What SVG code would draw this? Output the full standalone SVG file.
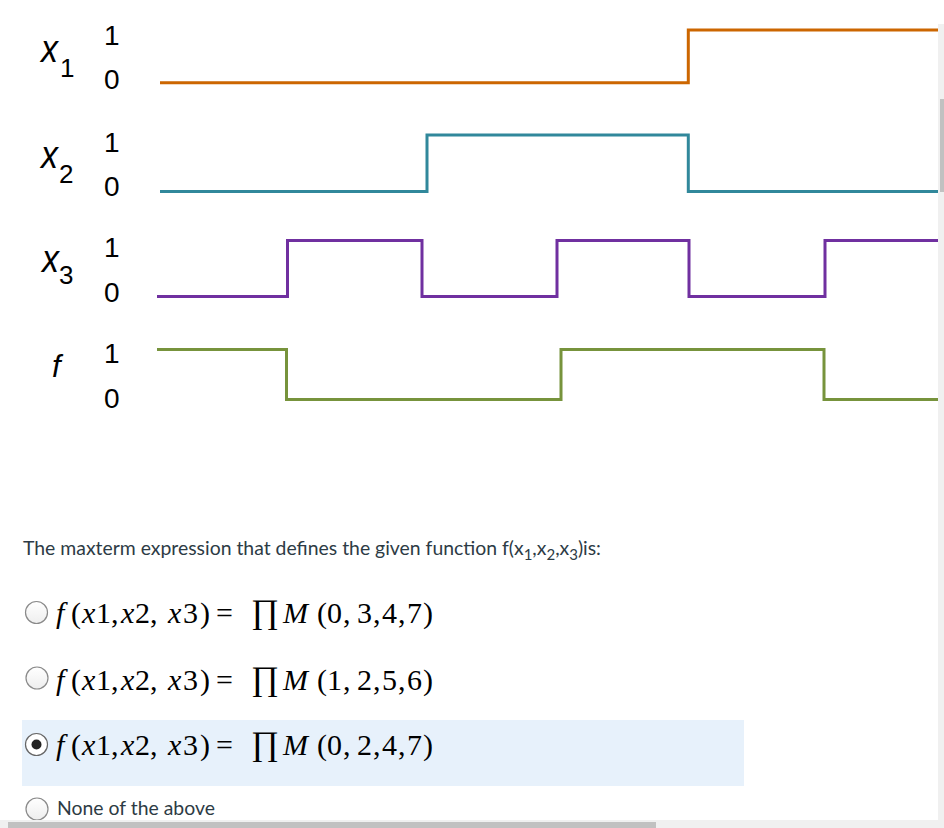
<svg xmlns="http://www.w3.org/2000/svg" width="944" height="828" viewBox="0 0 944 828">
<style>
.wave{fill:none;stroke-width:3;stroke-linejoin:miter;stroke-linecap:butt}
.lvl{font-family:"Liberation Sans",Arial,sans-serif;font-size:28px;fill:#000}
.lab{font-family:"Liberation Sans",Arial,sans-serif;font-style:italic;fill:#000}
.sub{font-family:"Liberation Sans",Arial,sans-serif;font-size:26px;fill:#000}
.q{font-family:Lato,"Open Sans",sans-serif;font-size:19.4px;fill:#2D3B45}
.m{font-family:"Liberation Serif","DejaVu Serif",serif;font-size:30px;fill:#000}
.mi{font-style:italic}
.radio{fill:url(#rg);stroke:#8a8a8a;stroke-width:1.2}
</style>
<defs>
<linearGradient id="rg" x1="0" y1="0" x2="0" y2="1"><stop offset="0" stop-color="#ffffff"/><stop offset="1" stop-color="#eeeeee"/></linearGradient>
</defs>
<rect width="944" height="828" fill="#ffffff"/>

<g id="label-x1">
<text class="lab" font-size="34" transform="translate(41,62) scale(1,1.12)">x</text><text class="sub" x="60" y="77">1</text>
<text class="lvl" x="104" y="45">1</text><text class="lvl" x="104" y="89">0</text>
</g>
<g id="label-x2">
<text class="lab" font-size="34" transform="translate(41,168) scale(1,1.12)">x</text><text class="sub" x="59" y="183">2</text>
<text class="lvl" x="104" y="152">1</text><text class="lvl" x="104" y="196">0</text>
</g>
<g id="label-x3">
<text class="lab" font-size="34" transform="translate(42,272) scale(1,1.12)">x</text><text class="sub" x="59" y="284">3</text>
<text class="lvl" x="104" y="257">1</text><text class="lvl" x="104" y="302">0</text>
</g>
<g id="label-f">
<text class="lab" x="52" y="377" font-size="31">f</text>
<text class="lvl" x="104" y="363">1</text><text class="lvl" x="104" y="408">0</text>
</g>

<g id="waveforms">
<path class="wave" stroke="#CC6600" d="M160,82.7 H688.3 V30 H938"/>
<path class="wave" stroke="#31889B" d="M160,191.5 H427 V135 H688.3 V191.5 H938"/>
<path class="wave" stroke="#7030A0" d="M157,296.5 H287.5 V240.5 H422 V296.5 H557 V240.5 H689 V296.5 H825 V240.5 H938"/>
<path class="wave" stroke="#77933C" d="M157,349.5 H286.5 V399.5 H561 V349.5 H824 V399.5 H938"/>
</g>

<g id="question">
<text class="q" x="23" y="555">The maxterm expression that defines the given function f(x<tspan font-size="15" dy="5">1</tspan><tspan dy="-5">,x</tspan><tspan font-size="15" dy="5">2</tspan><tspan dy="-5">,x</tspan><tspan font-size="15" dy="5">3</tspan><tspan dy="-5">)is:</tspan></text>
</g>

<g id="option1">
<circle class="radio" cx="36.5" cy="612.5" r="11"/>
<text class="m" y="623"><tspan class="mi" x="56">f</tspan><tspan x="71">(</tspan><tspan class="mi" x="82">x</tspan><tspan x="96">1</tspan><tspan x="111">,</tspan><tspan class="mi" x="121">x</tspan><tspan x="135">2</tspan><tspan x="150">,</tspan><tspan class="mi" x="168">x</tspan><tspan x="183">3</tspan><tspan x="200">)</tspan><tspan x="216">=</tspan><tspan x="251" font-size="34">∏</tspan><tspan class="mi" x="283">M</tspan><tspan x="317">(</tspan><tspan x="327">0</tspan><tspan x="343">,</tspan><tspan x="357">3</tspan><tspan x="373">,</tspan><tspan x="382">4</tspan><tspan x="398">,</tspan><tspan x="407">7</tspan><tspan x="423">)</tspan></text>
</g>

<g id="option2">
<circle class="radio" cx="37" cy="678" r="11"/>
<text class="m" y="690"><tspan class="mi" x="56">f</tspan><tspan x="71">(</tspan><tspan class="mi" x="82">x</tspan><tspan x="96">1</tspan><tspan x="111">,</tspan><tspan class="mi" x="121">x</tspan><tspan x="135">2</tspan><tspan x="150">,</tspan><tspan class="mi" x="168">x</tspan><tspan x="183">3</tspan><tspan x="200">)</tspan><tspan x="216">=</tspan><tspan x="251" font-size="34">∏</tspan><tspan class="mi" x="283">M</tspan><tspan x="317">(</tspan><tspan x="327">1</tspan><tspan x="343">,</tspan><tspan x="357">2</tspan><tspan x="373">,</tspan><tspan x="382">5</tspan><tspan x="398">,</tspan><tspan x="407">6</tspan><tspan x="423">)</tspan></text>
</g>

<g id="option3">
<rect x="22" y="720" width="722" height="66" fill="#E7F1FB"/>
<circle cx="36.5" cy="744.5" r="11" fill="#ffffff" stroke="#666666" stroke-width="1.2"/>
<circle cx="36.5" cy="744.5" r="5" fill="#222222"/>
<text class="m" y="755"><tspan class="mi" x="56">f</tspan><tspan x="71">(</tspan><tspan class="mi" x="82">x</tspan><tspan x="96">1</tspan><tspan x="111">,</tspan><tspan class="mi" x="121">x</tspan><tspan x="135">2</tspan><tspan x="150">,</tspan><tspan class="mi" x="168">x</tspan><tspan x="183">3</tspan><tspan x="200">)</tspan><tspan x="216">=</tspan><tspan x="251" font-size="34">∏</tspan><tspan class="mi" x="283">M</tspan><tspan x="317">(</tspan><tspan x="327">0</tspan><tspan x="343">,</tspan><tspan x="357">2</tspan><tspan x="373">,</tspan><tspan x="382">4</tspan><tspan x="398">,</tspan><tspan x="407">7</tspan><tspan x="423">)</tspan></text>
</g>

<g id="option4">
<circle class="radio" cx="37" cy="809" r="11"/>
<text class="q" x="57" y="815">None of the above</text>
</g>

<g id="scrollbars">
<rect x="938" y="24" width="6" height="804" fill="#F0F0F0"/>
<rect x="940" y="99" width="4" height="93" fill="#C1C1C1"/>
<rect x="0" y="820" width="944" height="8" fill="#F0F0F0"/>
<rect x="8" y="822" width="648" height="6" fill="#C1C1C1"/>
</g>
</svg>
